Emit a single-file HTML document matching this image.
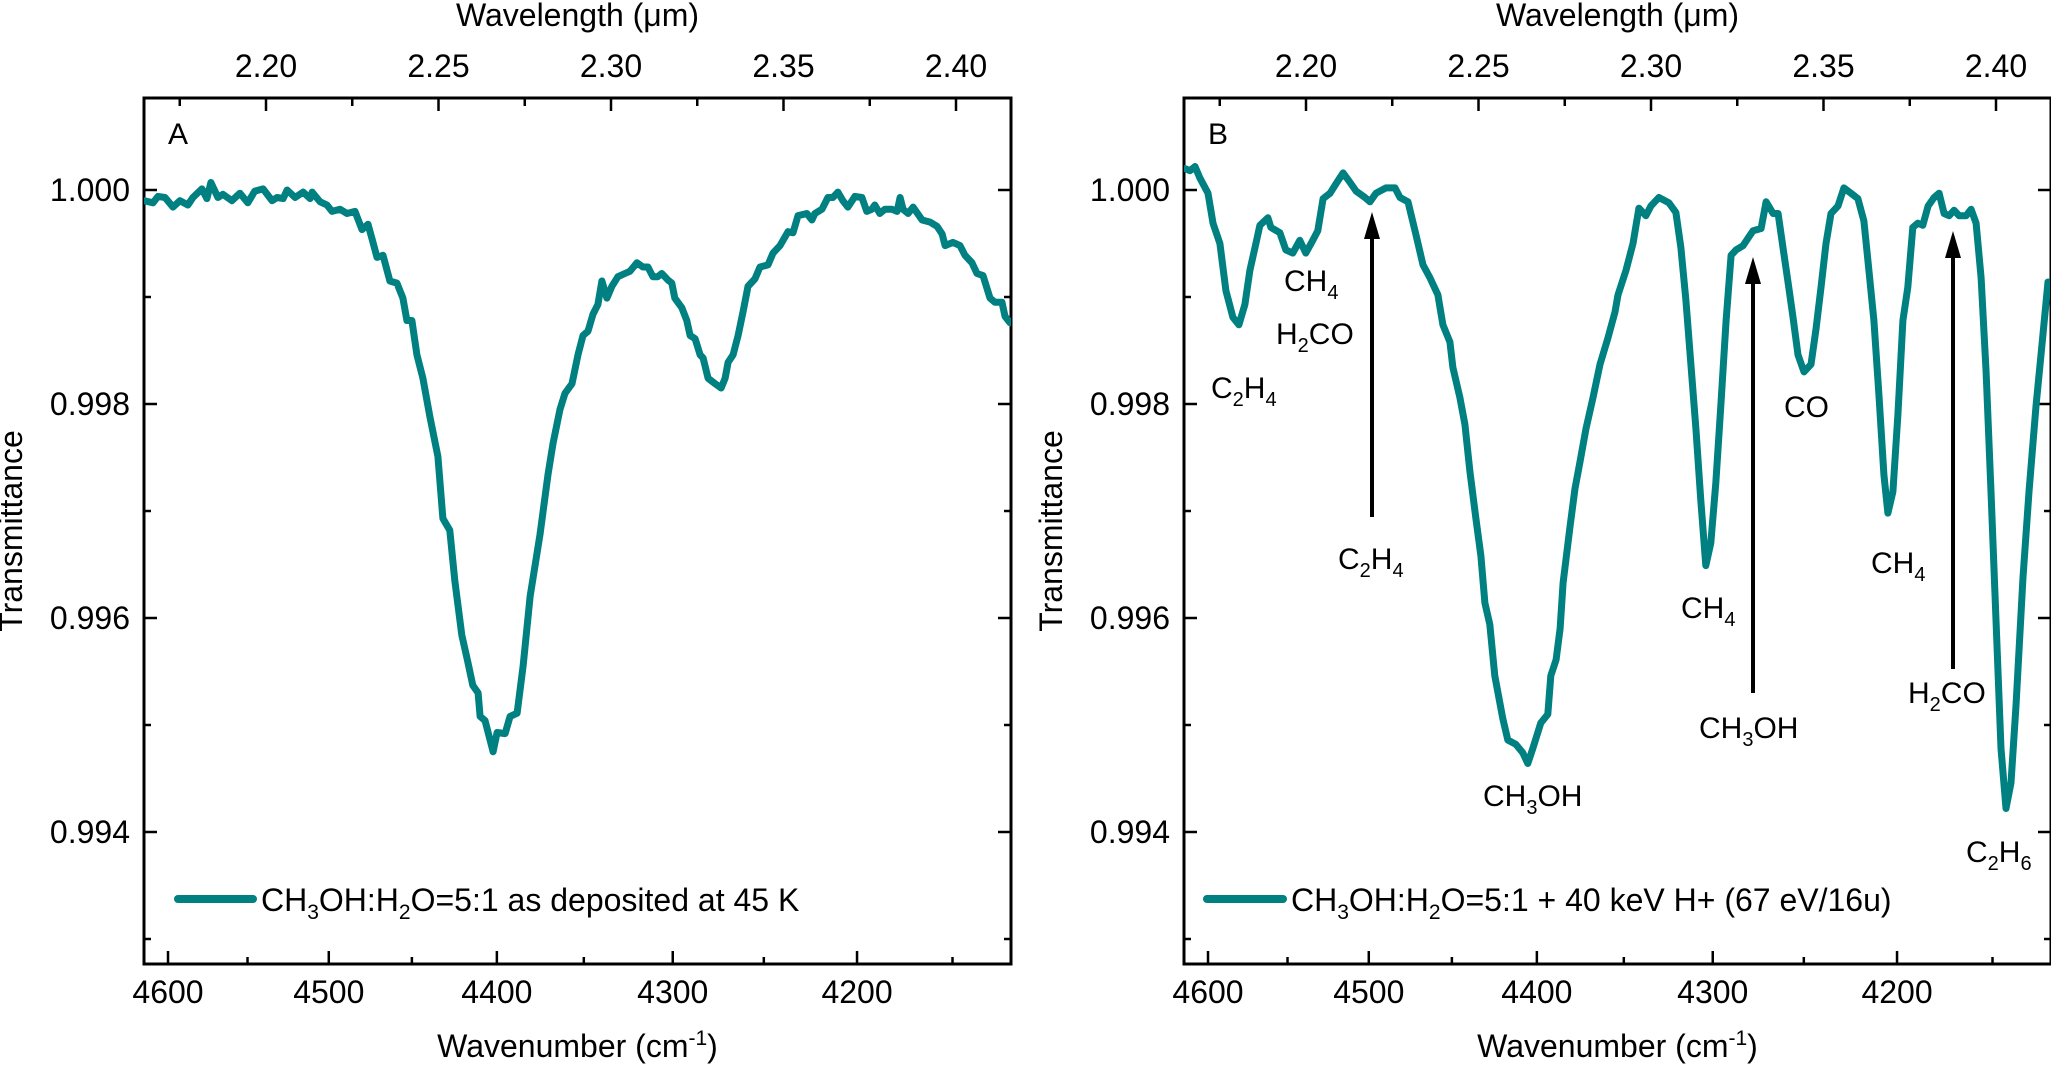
<!DOCTYPE html>
<html><head><meta charset="utf-8"><style>
html,body{margin:0;padding:0;background:#fff}
svg{display:block}
text{font-family:"Liberation Sans",Arial,sans-serif;fill:#000}
</style></head><body>
<svg id="chart" width="2051" height="1067" viewBox="0 0 2051 1067" xmlns="http://www.w3.org/2000/svg">
<defs>
<clipPath id="clipA"><rect x="144" y="98" width="867" height="866"/></clipPath>
<clipPath id="clipB"><rect x="1184" y="98" width="866" height="866"/></clipPath>
</defs>
<g id="layer"></g>
<text x="168" y="144" font-size="30">A</text>
<text x="1208" y="144" font-size="30">B</text>
<line x1="178" y1="899" x2="253" y2="899" stroke="#008080" stroke-width="8" stroke-linecap="round"/>
<text x="261" y="911" font-size="32">CH<tspan font-size="21" dy="8">3</tspan><tspan dy="-8">OH:H</tspan><tspan font-size="21" dy="8">2</tspan><tspan dy="-8">O=5:1 as deposited at 45 K</tspan></text>
<line x1="1207" y1="899" x2="1283" y2="899" stroke="#008080" stroke-width="8" stroke-linecap="round"/>
<text x="1291" y="911" font-size="32">CH<tspan font-size="21" dy="8">3</tspan><tspan dy="-8">OH:H</tspan><tspan font-size="21" dy="8">2</tspan><tspan dy="-8">O=5:1 + 40 keV H+ (67 eV/16u)</tspan></text>
<g font-size="30">
<text x="1211" y="398">C<tspan font-size="20" dy="8">2</tspan><tspan dy="-8">H</tspan><tspan font-size="20" dy="8">4</tspan></text>
<text x="1284" y="291">CH<tspan font-size="20" dy="8">4</tspan></text>
<text x="1276" y="344">H<tspan font-size="20" dy="8">2</tspan><tspan dy="-8">CO</tspan></text>
<text x="1338" y="569">C<tspan font-size="20" dy="8">2</tspan><tspan dy="-8">H</tspan><tspan font-size="20" dy="8">4</tspan></text>
<text x="1483" y="806">CH<tspan font-size="20" dy="8">3</tspan><tspan dy="-8">OH</tspan></text>
<text x="1681" y="618">CH<tspan font-size="20" dy="8">4</tspan></text>
<text x="1699" y="738">CH<tspan font-size="20" dy="8">3</tspan><tspan dy="-8">OH</tspan></text>
<text x="1784" y="417">CO</text>
<text x="1871" y="573">CH<tspan font-size="20" dy="8">4</tspan></text>
<text x="1908" y="703">H<tspan font-size="20" dy="8">2</tspan><tspan dy="-8">CO</tspan></text>
<text x="1966" y="862">C<tspan font-size="20" dy="8">2</tspan><tspan dy="-8">H</tspan><tspan font-size="20" dy="8">6</tspan></text>
</g>
<g><line x1="1372" y1="517" x2="1372" y2="230" stroke="#000" stroke-width="4"/><polygon points="1372,212 1364,239 1380,239" fill="#000"/></g>
<g><line x1="1753" y1="693" x2="1753" y2="275" stroke="#000" stroke-width="4"/><polygon points="1753,257 1745,284 1761,284" fill="#000"/></g>
<g><line x1="1953" y1="669" x2="1953" y2="249" stroke="#000" stroke-width="4"/><polygon points="1953,231 1945,258 1961,258" fill="#000"/></g>
</svg>
<script>
const lamA = [2.1667,2.1694,2.1709,2.1730,2.1754,2.1775,2.1799,2.1814,2.1841,2.1856,2.1868,2.1889,2.1904,2.1931,2.1955,2.1979,2.2000,2.2025,2.2052,2.2067,2.2085,2.2097,2.2121,2.2145,2.2166,2.2172,2.2196,2.2217,2.2232,2.2256,2.2277,2.2301,2.2322,2.2340,2.2355,2.2367,2.2385,2.2406,2.2427,2.2445,2.2457,2.2472,2.2487,2.2505,2.2526,2.2550,2.2565,2.2586,2.2601,2.2622,2.2640,2.2655,2.2671,2.2677,2.2692,2.2716,2.2728,2.2752,2.2767,2.2788,2.2806,2.2827,2.2857,2.2881,2.2896,2.2917,2.2932,2.2953,2.2971,2.2986,2.3001,2.3016,2.3031,2.3043,2.3058,2.3073,2.3091,2.3112,2.3127,2.3148,2.3166,2.3181,2.3196,2.3211,2.3223,2.3241,2.3253,2.3262,2.3283,2.3298,2.3308,2.3323,2.3338,2.3347,2.3362,2.3383,2.3401,2.3413,2.3422,2.3437,2.3452,2.3467,2.3482,2.3503,2.3518,2.3542,2.3557,2.3578,2.3602,2.3617,2.3632,2.3659,2.3674,2.3683,2.3704,2.3722,2.3737,2.3752,2.3767,2.3782,2.3803,2.3824,2.3839,2.3854,2.3863,2.3878,2.3893,2.3915,2.3930,2.3939,2.3948,2.3963,2.3978,2.4005,2.4029,2.4050,2.4065,2.4074,2.4098,2.4119,2.4134,2.4155,2.4170,2.4188,2.4209,2.4224,2.4245,2.4254,2.4269];
const tA = [0.99990,0.99988,0.99994,0.99993,0.99984,0.99990,0.99986,0.99993,1.00001,0.99992,1.00007,0.99993,0.99996,0.99990,0.99997,0.99988,0.99999,1.00001,0.99990,0.99993,0.99992,1.00000,0.99993,0.99998,0.99992,0.99998,0.99989,0.99986,0.99980,0.99982,0.99978,0.99980,0.99963,0.99968,0.99951,0.99937,0.99939,0.99915,0.99913,0.99899,0.99878,0.99878,0.99846,0.99824,0.99788,0.99751,0.99693,0.99682,0.99635,0.99584,0.99559,0.99537,0.99530,0.99508,0.99504,0.99475,0.99493,0.99492,0.99508,0.99511,0.99555,0.99620,0.99678,0.99734,0.99763,0.99795,0.99810,0.99819,0.99846,0.99864,0.99868,0.99884,0.99893,0.99915,0.99899,0.99910,0.99919,0.99922,0.99924,0.99932,0.99928,0.99928,0.99919,0.99919,0.99922,0.99916,0.99913,0.99899,0.99890,0.99878,0.99864,0.99861,0.99846,0.99843,0.99824,0.99819,0.99815,0.99824,0.99839,0.99846,0.99864,0.99886,0.99910,0.99917,0.99928,0.99930,0.99941,0.99948,0.99961,0.99960,0.99976,0.99978,0.99972,0.99978,0.99982,0.99993,0.99993,0.99998,0.99990,0.99984,0.99994,0.99993,0.99980,0.99982,0.99986,0.99978,0.99982,0.99982,0.99980,0.99993,0.99982,0.99978,0.99984,0.99972,0.99970,0.99966,0.99959,0.99948,0.99951,0.99948,0.99939,0.99932,0.99922,0.99920,0.99899,0.99895,0.99895,0.99882,0.99876];
const lamB = [2.1670,2.1685,2.1700,2.1715,2.1739,2.1754,2.1775,2.1793,2.1814,2.1832,2.1850,2.1865,2.1883,2.1895,2.1919,2.1928,2.1955,2.1973,2.1994,2.2015,2.2033,2.2054,2.2069,2.2085,2.2106,2.2124,2.2145,2.2166,2.2184,2.2211,2.2226,2.2244,2.2274,2.2301,2.2316,2.2340,2.2364,2.2385,2.2406,2.2430,2.2445,2.2466,2.2475,2.2496,2.2511,2.2526,2.2544,2.2559,2.2571,2.2586,2.2601,2.2625,2.2640,2.2664,2.2685,2.2700,2.2715,2.2739,2.2760,2.2769,2.2785,2.2797,2.2806,2.2827,2.2842,2.2857,2.2875,2.2896,2.2917,2.2941,2.2962,2.2971,2.2995,2.3016,2.3034,2.3055,2.3070,2.3094,2.3124,2.3145,2.3160,2.3175,2.3190,2.3205,2.3220,2.3235,2.3250,2.3265,2.3280,2.3296,2.3311,2.3326,2.3347,2.3362,2.3377,2.3401,2.3416,2.3437,2.3452,2.3467,2.3482,2.3497,2.3512,2.3530,2.3551,2.3566,2.3581,2.3596,2.3611,2.3632,2.3650,2.3671,2.3692,2.3710,2.3725,2.3740,2.3755,2.3770,2.3782,2.3797,2.3812,2.3827,2.3842,2.3857,2.3872,2.3887,2.3903,2.3921,2.3936,2.3951,2.3966,2.3981,2.3996,2.4017,2.4032,2.4047,2.4062,2.4077,2.4092,2.4107,2.4122,2.4137,2.4152,2.4167,2.4188,2.4206,2.4227,2.4242,2.4263];
const tB = [1.00020,1.00018,1.00022,1.00011,0.99997,0.99969,0.99950,0.99906,0.99881,0.99874,0.99893,0.99925,0.99950,0.99967,0.99974,0.99965,0.99960,0.99944,0.99941,0.99953,0.99941,0.99953,0.99962,0.99992,0.99997,1.00006,1.00016,1.00007,0.99999,0.99993,0.99989,0.99997,1.00002,1.00002,0.99993,0.99989,0.99958,0.99930,0.99918,0.99902,0.99874,0.99858,0.99834,0.99806,0.99781,0.99737,0.99693,0.99658,0.99614,0.99594,0.99546,0.99506,0.99486,0.99482,0.99474,0.99464,0.99478,0.99502,0.99510,0.99546,0.99561,0.99590,0.99633,0.99686,0.99721,0.99746,0.99777,0.99806,0.99837,0.99862,0.99886,0.99902,0.99925,0.99950,0.99983,0.99976,0.99985,0.99993,0.99988,0.99979,0.99946,0.99897,0.99837,0.99777,0.99710,0.99649,0.99670,0.99726,0.99798,0.99878,0.99939,0.99944,0.99948,0.99955,0.99962,0.99964,0.99989,0.99978,0.99978,0.99946,0.99914,0.99881,0.99846,0.99830,0.99837,0.99870,0.99909,0.99950,0.99978,0.99985,1.00002,0.99997,0.99992,0.99971,0.99925,0.99878,0.99809,0.99734,0.99698,0.99718,0.99790,0.99878,0.99909,0.99965,0.99969,0.99967,0.99985,0.99993,0.99997,0.99978,0.99976,0.99981,0.99976,0.99976,0.99982,0.99969,0.99918,0.99830,0.99718,0.99598,0.99478,0.99422,0.99446,0.99518,0.99638,0.99718,0.99798,0.99846,0.99914];
const waveMajor = [4600,4500,4400,4300,4200];
const waveMinor = [4550,4450,4350,4250,4150];
const lamMajor = [2.20,2.25,2.30,2.35,2.40];
const lamMinor = [2.175,2.225,2.275,2.325,2.375];
const tMajor = [1.000,0.998,0.996,0.994];
const tMinor = [0.999,0.997,0.995,0.993];

const NS = "http://www.w3.org/2000/svg";
const layer = document.getElementById('layer');
const P = {top:98, bottom:964, w:867};
const panels = [{id:'a', left:144, lam:lamA, t:tA, clip:'clipA'},{id:'b', left:1184, lam:lamB, t:tB, clip:'clipB'}];
function xLam(p, lam){ return p.left + 24 + (lam - 2.17391) * 3328; }
function xWave(p, nu){ return xLam(p, 1e4/nu); }
function xTop(p, lam){ return p.left + 122 + (lam - 2.20) * 3450; }
function yT(t){ return 190 + (1.000 - t) * 107000; }
function mk(tag, attrs, parent){ const e=document.createElementNS(NS,tag); for(const k in attrs) e.setAttribute(k, attrs[k]); (parent||layer).appendChild(e); return e; }

panels.forEach(p=>{
  const g = mk('g',{});
  
  
  const R = p.left + P.w;
  const frame = mk('rect',{x:p.left,y:P.top,width:P.w,height:P.bottom-P.top,fill:'none',stroke:'#000','stroke-width':3},g);
  
  
  waveMajor.forEach(v=>{
    const x = xWave(p,v);
    mk('line',{x1:x,y1:P.bottom,x2:x,y2:P.bottom-13,stroke:'#000','stroke-width':2.5},g);
    const t = mk('text',{x:x,y:1003,'font-size':32,'text-anchor':'middle'},g);
    t.textContent = v;
    
    
  });
  waveMinor.forEach(v=>{
    const x = xWave(p,v);
    if (x < R-2) mk('line',{x1:x,y1:P.bottom,x2:x,y2:P.bottom-7,stroke:'#000','stroke-width':2.5},g);
  });
  lamMajor.forEach(v=>{
    const x = xTop(p,v);
    mk('line',{x1:x,y1:P.top,x2:x,y2:P.top+13,stroke:'#000','stroke-width':2.5},g);
    const t = mk('text',{x:x,y:77,'font-size':32,'text-anchor':'middle'},g);
    t.textContent = v.toFixed(2);
    
    
  });
  lamMinor.forEach(v=>{
    const x = xTop(p,v);
    mk('line',{x1:x,y1:P.top,x2:x,y2:P.top+8,stroke:'#000','stroke-width':2.5},g);
  });
  tMajor.forEach(v=>{
    const y = yT(v);
    mk('line',{x1:p.left,y1:y,x2:p.left+13,y2:y,stroke:'#000','stroke-width':2.5},g);
    mk('line',{x1:R,y1:y,x2:R-13,y2:y,stroke:'#000','stroke-width':2.5},g);
    const t = mk('text',{x:p.left-14,y:y+11,'font-size':32,'text-anchor':'end'},g);
    t.textContent = v.toFixed(3);
    
    
  });
  tMinor.forEach(v=>{
    const y = yT(v);
    mk('line',{x1:p.left,y1:y,x2:p.left+7,y2:y,stroke:'#000','stroke-width':2.5},g);
    mk('line',{x1:R,y1:y,x2:R-7,y2:y,stroke:'#000','stroke-width':2.5},g);
  });
  const cx = p.left + P.w/2;
  const tt = mk('text',{x:cx,y:26,'font-size':32,'text-anchor':'middle'},g);
  tt.textContent = 'Wavelength (\u03bcm)';
  
  
  const bt = mk('text',{x:cx,y:1057,'font-size':32,'text-anchor':'middle'},g);
  bt.innerHTML = 'Wavenumber (cm<tspan font-size="21" dy="-12">-1</tspan><tspan dy="12">)</tspan>';
  
  
  const yx = p.left - 122, yy = 531;
  const yt = mk('text',{x:yx,y:yy,'font-size':32,'text-anchor':'middle',transform:`rotate(-90 ${yx} ${yy})`},g);
  yt.textContent = 'Transmittance';
  
  
  let d = '';
  p.lam.forEach((l,i)=>{ d += (i?'L':'M') + xLam(p,l).toFixed(1) + ' ' + yT(p.t[i]).toFixed(1); });
  const path = mk('path',{d:d,fill:'none',stroke:'#008080','stroke-width':7,'stroke-linejoin':'round','stroke-linecap':'round','clip-path':`url(#${p.clip})`},g);
  
  
});
</script>
</body></html>
